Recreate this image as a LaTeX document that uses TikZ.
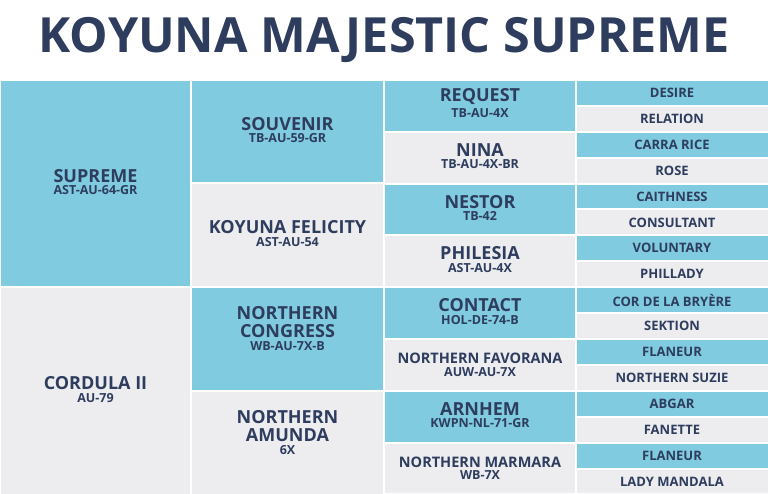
\documentclass[tikz,border=0pt]{standalone}
\usepackage{fontspec}
\setmainfont{Open Sans}
\definecolor{cblue}{HTML}{80CBE0}
\definecolor{cgray}{HTML}{EDEDF0}
\definecolor{navy}{HTML}{2E3D5E}
\tikzset{x=1pt,y=-1pt,
 bluecell/.style={fill=cblue,draw=white,line width=2pt},
 graycell/.style={fill=cgray,draw=white,line width=2pt},
 lbl/.style={text=navy,align=center,font=\bfseries,inner sep=0pt},
 big/.style={lbl,font=\bfseries\fontsize{18}{18}\selectfont},
 code/.style={lbl,font=\bfseries\fontsize{12.5}{13}\selectfont},
 small/.style={lbl,font=\bfseries\fontsize{13}{14}\selectfont}}
\newcommand{\pcell}[8]{% name, style, x0,y0,x1,y1, title, code
 \draw[#2] (#3,#4) rectangle (#5,#6);
 \node[big,anchor=south] (#1) at ({(#3+#5)/2},{(#4+#6)/2-1}) {#7};
 \node[code,anchor=north] (#1c) at ({(#3+#5)/2},{(#4+#6)/2+2}) {#8};}
\begin{document}
\begin{tikzpicture}
\useasboundingbox (0,0) rectangle (768,494);
\fill[white] (0,0) rectangle (768,494);
\node[lbl,font=\bfseries\fontsize{48.5}{50}\selectfont] (title) at (384,40) {KOYUNA MAJESTIC SUPREME};
% column 1
\pcell{a}{bluecell}{0}{80}{191}{287}{SUPREME}{AST-AU-64-GR}
\pcell{b}{graycell}{0}{287}{191}{495}{CORDULA II}{AU-79}
% column 2
\pcell{c}{bluecell}{191}{80}{384}{183.5}{SOUVENIR}{TB-AU-59-GR}
\pcell{d}{graycell}{191}{183.5}{384}{287}{KOYUNA FELICITY}{AST-AU-54}
\pcell{e}{bluecell}{191}{287}{384}{391}{NORTHERN\\CONGRESS}{WB-AU-7X-B}
\pcell{f}{graycell}{191}{391}{384}{495}{NORTHERN\\AMUNDA}{6X}
% column 3
\def\h{51.8}
\foreach \n/\s/\t/\cc [count=\i from 0] in {
 g/bluecell/REQUEST/TB-AU-4X, h/graycell/NINA/TB-AU-4X-BR,
 i/bluecell/NESTOR/TB-42, j/graycell/PHILESIA/AST-AU-4X,
 k/bluecell/CONTACT/HOL-DE-74-B, l/graycell/{\fontsize{14.5}{14}\selectfont NORTHERN FAVORANA}/AUW-AU-7X,
 m/bluecell/ARNHEM/KWPN-NL-71-GR, n/graycell/{\fontsize{14.5}{14}\selectfont NORTHERN MARMARA}/WB-7X}
 {\pgfmathsetmacro\ya{80+\i*\h}\pgfmathsetmacro\yb{80+(\i+1)*\h}
  \pcell{\n}{\s}{384}{\ya}{576}{\yb}{\t}{\cc}}
% column 4
\def\q{25.9}
\foreach \t [count=\i from 0] in {DESIRE,RELATION,CARRA RICE,ROSE,CAITHNESS,CONSULTANT,VOLUNTARY,PHILLADY,COR DE LA BRYÈRE,SEKTION,FLANEUR,NORTHERN SUZIE,ABGAR,FANETTE,FLANEUR,LADY MANDALA}
 {\pgfmathsetmacro\ya{80+\i*\q}\pgfmathsetmacro\yb{80+(\i+1)*\q}
  \pgfmathtruncatemacro\odd{mod(\i,2)}
  \ifnum\odd=0 \def\st{bluecell}\else\def\st{graycell}\fi
  \draw[\st] (576,\ya) rectangle (769,\yb);
  \node[small] (p\i) at (672,{(\ya+\yb)/2}) {\t};}
\end{tikzpicture}
\end{document}
